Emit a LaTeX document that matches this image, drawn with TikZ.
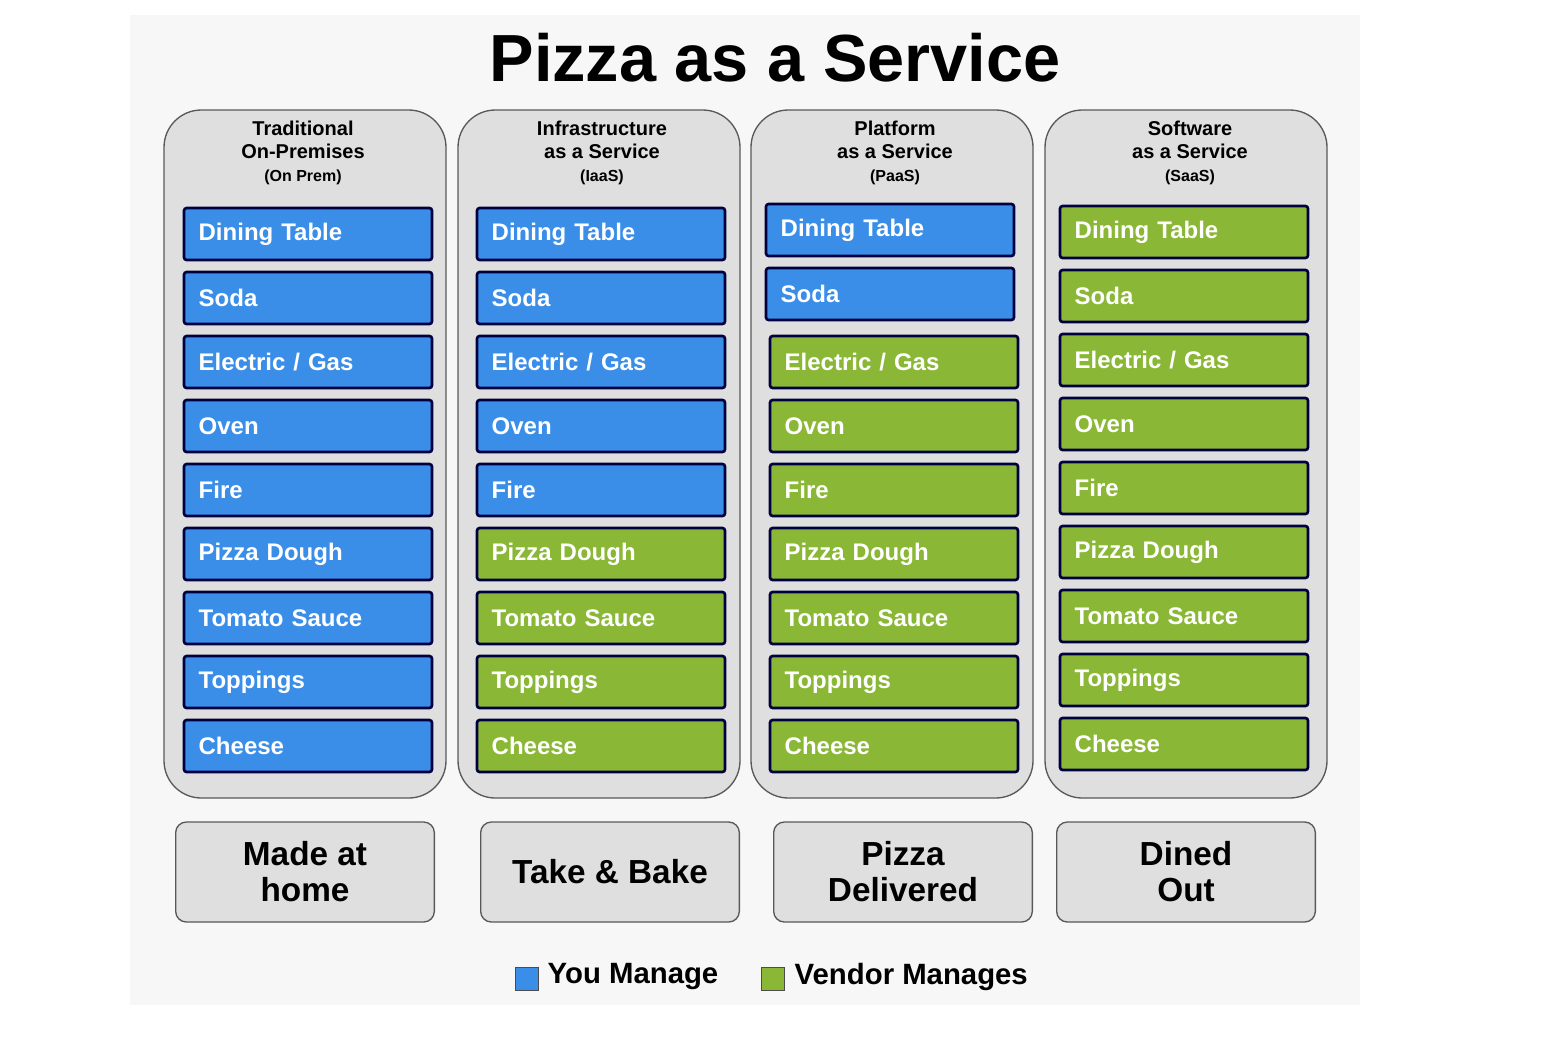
\documentclass[tikz,border=0pt]{standalone}
\usepackage{fontspec}
\setmainfont{Liberation Sans}
\begin{document}
\begin{tikzpicture}[x=0.75pt,y=-0.75pt,
  col/.style={draw=gray!70!black,line width=1pt,fill=gray!25,rounded corners=28pt},
  item/.style={draw=blue!25!black,line width=2pt,minimum width=186pt,minimum height=39pt,anchor=center,text=white,font=\bfseries\fontsize{18}{20}\selectfont,text width=164pt,align=left,rounded corners=2pt},
  you/.style={item,fill=youc},
  ven/.style={item,fill=venc},
  hdr/.style={font=\bfseries\fontsize{15}{17}\selectfont,align=center},
  bot/.style={draw=gray!70!black,line width=1pt,fill=gray!25,rounded corners=8pt,minimum width=194pt,minimum height=75pt,font=\bfseries\fontsize{25}{27}\selectfont,align=center}]
\definecolor{youc}{HTML}{3A8EE8}
\definecolor{venc}{HTML}{8AB735}
\useasboundingbox (0,0) rectangle (1548,1042);
\fill[white] (0,0) rectangle (1548,1042);
\fill[gray!6] (130,15) rectangle (1360,1005);
\node[font=\bfseries\fontsize{50}{54}\selectfont] (title) at (775,58) {Pizza as a Service};
\foreach \i/\x in {1/305,2/599,3/892,4/1186}{
  \draw[col] (\x-141,110) rectangle (\x+141,798);
}
\node[hdr] (h1) at (303,153) {Traditional\\On-Premises\\{\fontsize{12}{14}\selectfont (On Prem)}};
\node[hdr] (h2) at (602,153) {Infrastructure\\as a Service\\{\fontsize{12}{14}\selectfont (IaaS)}};
\node[hdr] (h3) at (895,153) {Platform\\as a Service\\{\fontsize{12}{14}\selectfont (PaaS)}};
\node[hdr] (h4) at (1190,153) {Software\\as a Service\\{\fontsize{12}{14}\selectfont (SaaS)}};
\foreach \t [count=\r from 0] in {Dining Table,Soda,Electric / Gas,Oven,Fire,Pizza Dough,Tomato Sauce,Toppings,Cheese}{
  \pgfmathsetmacro{\yy}{234+64*\r}
  \node[you] (a\r) at (308,\yy) {\t};
  \ifnum\r<5 \node[you] (b\r) at (601,\yy) {\t}; \else \node[ven] (b\r) at (601,\yy) {\t}; \fi
  \ifnum\r<2 \node[you] (c\r) at (890,\yy-4) {\t}; \else \node[ven] (c\r) at (894,\yy) {\t}; \fi
  \node[ven] (d\r) at (1184,\yy-2) {\t};
}
\node[bot] (m1) at (305,872) {Made at\\home};
\node[bot] (m2) at (610,872) {Take \& Bake};
\node[bot] (m3) at (903,872) {Pizza\\Delivered};
\node[bot] (m4) at (1186,872) {Dined\\Out};
\node[draw=gray!60!black,fill=youc,minimum size=17pt,inner sep=0pt] (ly) at (527,979) {};
\node[anchor=west,font=\bfseries\fontsize{22}{24}\selectfont] (lyt) at (543,977) {You Manage};
\node[draw=gray!60!black,fill=venc,minimum size=17pt,inner sep=0pt] (lv) at (773,979) {};
\node[anchor=west,font=\bfseries\fontsize{22}{24}\selectfont] (lvt) at (790,977) {Vendor Manages};
\end{tikzpicture}
\end{document}
